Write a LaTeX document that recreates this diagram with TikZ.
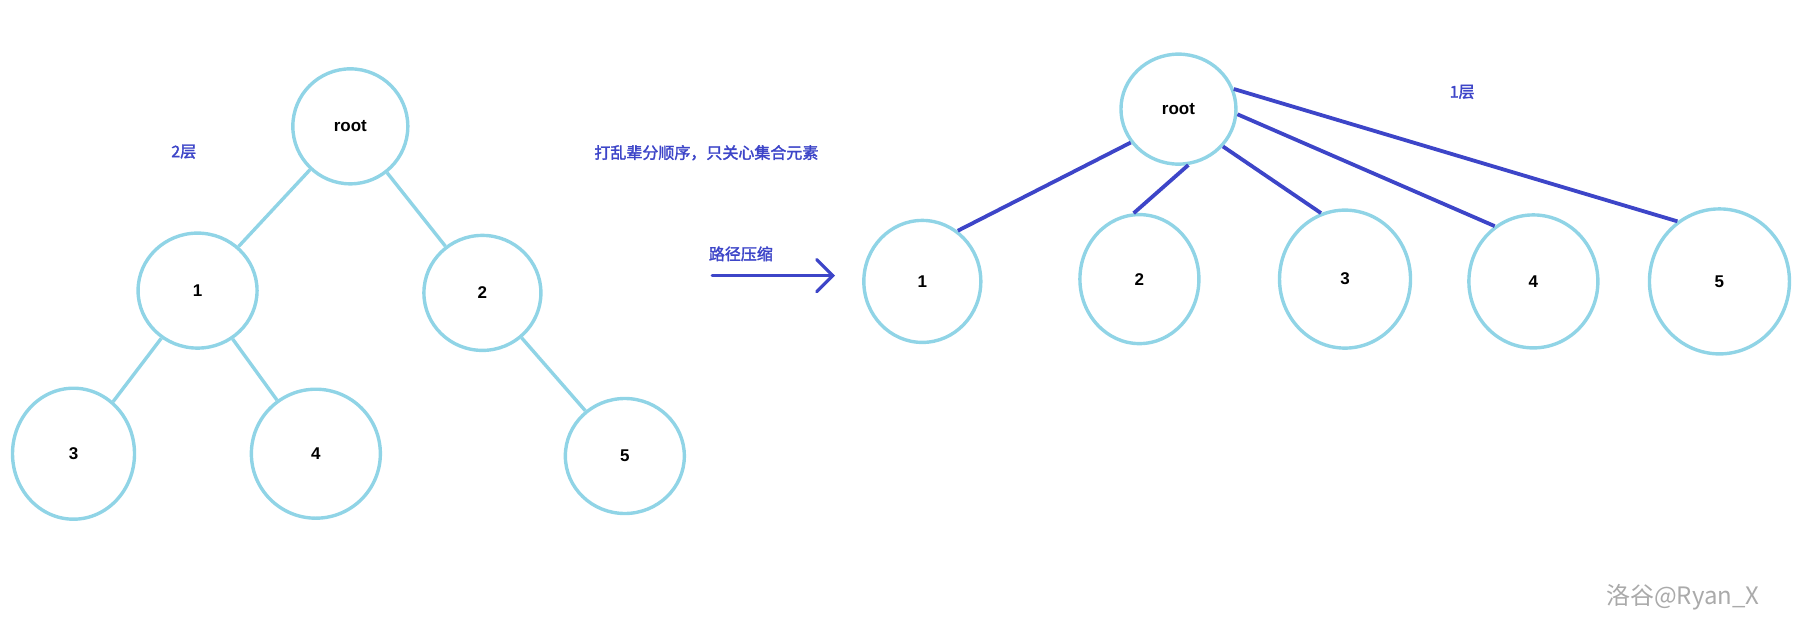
\documentclass[tikz,border=0pt]{standalone}
\usepackage{fontspec}
\setmainfont{Liberation Sans}
\newfontfamily\cjk[AutoFakeBold=2]{Noto Sans CJK SC}
\usetikzlibrary{shapes.geometric,positioning}
\definecolor{treeblue}{RGB}{144,212,230}
\definecolor{linkblue}{RGB}{61,69,200}
\definecolor{markgray}{RGB}{170,170,170}
\begin{document}
\begin{tikzpicture}[
    x=1.1486pt, y=-1.1486pt,
    every node/.style={font=\fontsize{17}{19}\selectfont\bfseries},
    vertex/.style={ellipse, draw=treeblue, line width=3.4pt, inner sep=0pt},
    treeedge/.style={draw=treeblue, line width=3.4pt},
    linkedge/.style={draw=linkblue, line width=3.8pt},
    note/.style={text=linkblue, font=\cjk\fontsize{16}{18}\selectfont\bfseries}
]
\useasboundingbox (0,0) rectangle (1568,558);
% left tree, two levels
\node[vertex, minimum width=115pt, minimum height=115pt] (root) at (305,110) {root};
\node[vertex, minimum width=119pt, minimum height=115pt] (a1) at (172,253) {1};
\node[vertex, minimum width=117pt, minimum height=115pt] (a2) at (420,255) {2};
\node[vertex, minimum width=122pt, minimum height=131pt] (a3) at (64,395) {3};
\node[vertex, minimum width=129pt, minimum height=129pt] (a4) at (275,395) {4};
\node[vertex, minimum width=119pt, minimum height=115pt] (a5) at (544,397) {5};
\draw[treeedge] (root) -- (a1);
\draw[treeedge] (root) -- (a2);
\draw[treeedge] (a1) -- (a3);
\draw[treeedge] (a1) -- (a4);
\draw[treeedge] (a2) -- (a5);
% right tree, one level
\node[vertex, minimum width=115pt, minimum height=110pt] (top) at (1026,95) {root};
\node[vertex, minimum width=117pt, minimum height=122pt] (b1) at (803,245) {1};
\node[vertex, minimum width=119pt, minimum height=129pt] (b2) at (992,243) {2};
\node[vertex, minimum width=131pt, minimum height=138pt] (b3) at (1171,243) {3};
\node[vertex, minimum width=129pt, minimum height=133pt] (b4) at (1335,245) {4};
\node[vertex, minimum width=140pt, minimum height=145pt] (b5) at (1497,245) {5};
\draw[linkedge] (top.215) -- (b1.55);
\draw[linkedge] (top.280) -- (b2.95);
\draw[linkedge] (top.320) -- (b3.110);
\draw[linkedge] (top.355) -- (b4.125);
\draw[linkedge] (top.20) -- (b5.125);
% notes
\node[note] (lvtwo) at (160,132) {2层};
\node[note] (lvone) at (1273,80) {1层};
\node[note] (why) at (615,133) {打乱辈分顺序，只关心集合元素};
\node[note] (how) at (645,221) {路径压缩};
\coordinate (from) at (620,240);
\coordinate (to) at (725,240);
\draw[linkedge, line width=3.2pt, line cap=round] (from) -- (to);
\draw[linkedge, line width=3.2pt, line cap=round] (711,226) -- (to) -- (711,254);
\node[text=markgray, font=\cjk\fontsize{24}{26}\selectfont] (mark) at (1465,520) {洛谷@Ryan\_X};
\end{tikzpicture}
\end{document}
